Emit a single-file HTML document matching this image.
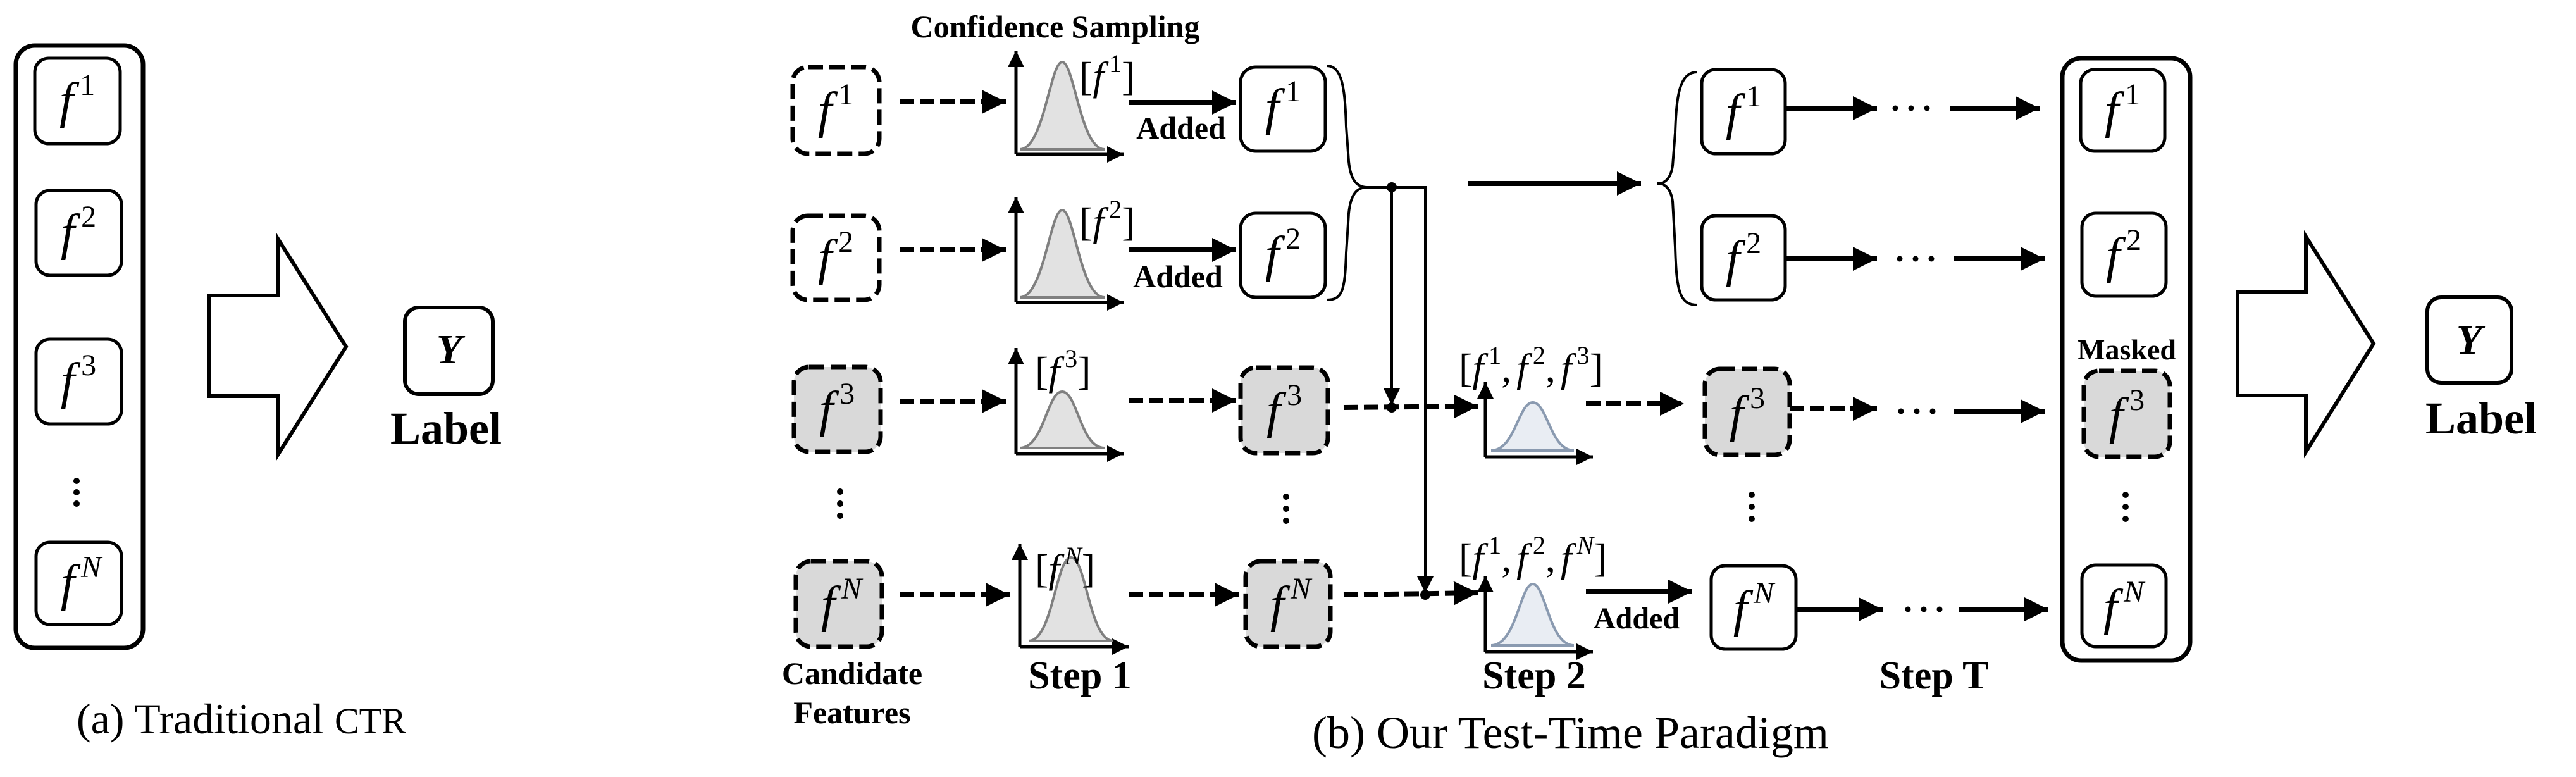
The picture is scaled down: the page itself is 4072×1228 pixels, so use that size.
<!DOCTYPE html>
<html><head><meta charset="utf-8"><style>
html,body{margin:0;padding:0;background:#fff;}
svg{display:block;}
.t{font-family:"Liberation Serif",serif;}
.b{font-family:"Liberation Serif",serif;font-weight:bold;}
.fi{font-family:"Liberation Serif",serif;font-style:italic;}
</style></head><body>
<svg width="4072" height="1228" viewBox="0 0 4072 1228" xmlns="http://www.w3.org/2000/svg">
<defs>
<marker id="ah" markerUnits="userSpaceOnUse" markerWidth="38" markerHeight="38" refX="38" refY="19" orient="auto"><path d="M0,0 L38,19 L0,38 z" fill="#000"/></marker>
<marker id="as" markerUnits="userSpaceOnUse" markerWidth="26" markerHeight="26" refX="26" refY="13" orient="auto"><path d="M0,0 L26,13 L0,26 z" fill="#000"/></marker>
</defs>
<g fill="none" stroke="#000">
<!-- (a) -->
<rect x="25" y="72" width="201" height="952" rx="30" stroke-width="7"/>
<rect x="55" y="92" width="135" height="135" rx="22" stroke-width="5"/>
<rect x="57" y="301" width="135" height="134" rx="22" stroke-width="5"/>
<rect x="57" y="536" width="135" height="134" rx="22" stroke-width="5"/>
<rect x="57" y="857" width="135" height="130" rx="22" stroke-width="5"/>
<path d="M331,467 L439,467 L439,377 L547,548 L439,719 L439,626 L331,626 Z" stroke-width="6"/>
<rect x="640" y="486" width="139" height="137" rx="22" stroke-width="6"/>

<!-- (b) candidate boxes -->
<rect x="1253" y="106" width="137" height="137" rx="24" stroke-width="7" stroke-dasharray="24 10"/>
<rect x="1253" y="341" width="137" height="133" rx="24" stroke-width="7" stroke-dasharray="24 10"/>
<rect x="1255" y="580" width="137" height="134" rx="24" stroke-width="7" stroke-dasharray="24 10" fill="#d9d9d9"/>
<rect x="1258" y="887" width="136" height="135" rx="24" stroke-width="7" stroke-dasharray="24 10" fill="#d9d9d9"/>
<g stroke-width="8" stroke-dasharray="23 9" marker-end="url(#ah)">
<line x1="1422" y1="161" x2="1590" y2="161"/>
<line x1="1422" y1="395" x2="1590" y2="395"/>
<line x1="1422" y1="634" x2="1590" y2="634"/>
<line x1="1422" y1="940" x2="1596" y2="940"/>
<line x1="1784" y1="633" x2="1954" y2="633"/>
<line x1="1784" y1="940" x2="1958" y2="940"/>
<line x1="2124" y1="644" x2="2336" y2="642"/>
<line x1="2124" y1="940" x2="2336" y2="937"/>
<line x1="2507" y1="638" x2="2662" y2="638"/>
<line x1="2829" y1="646" x2="2967" y2="646"/>
</g>
<g stroke-width="5">
<path d="M1606,244 L1606,80" marker-end="url(#as)"/><path d="M1606,244 L1776,244" marker-end="url(#as)"/>
<path d="M1606,478 L1606,311" marker-end="url(#as)"/><path d="M1606,478 L1776,478" marker-end="url(#as)"/>
<path d="M1606,717 L1606,550" marker-end="url(#as)"/><path d="M1606,717 L1776,717" marker-end="url(#as)"/>
<path d="M1612,1022 L1612,859" marker-end="url(#as)"/><path d="M1612,1022 L1784,1022" marker-end="url(#as)"/>
<path d="M2348,722 L2348,604" marker-end="url(#as)"/><path d="M2348,722 L2518,722" marker-end="url(#as)"/>
<path d="M2348,1030 L2348,910" marker-end="url(#as)"/><path d="M2348,1030 L2518,1030" marker-end="url(#as)"/>
</g>
<g stroke="#808080" stroke-width="4" fill="#e2e2e2">
<path d="M1612,236 C1650,236 1660,98 1679,98 C1698,98 1708,236 1746,236 Z"/>
<path d="M1612,470 C1650,470 1660,332 1679,332 C1698,332 1708,470 1746,470 Z"/>
<path d="M1612,708 C1650,708 1655,619 1679,619 C1703,619 1708,708 1746,708 Z"/>
<path d="M1626,1013 C1664,1013 1669,881 1693,881 C1717,881 1722,1013 1760,1013 Z"/>
</g>
<g stroke="#8a9ab0" stroke-width="4" fill="#e9edf3">
<path d="M2357,712 C2395,712 2400,636 2423,636 C2446,636 2451,712 2488,712 Z"/>
<path d="M2357,1020 C2397,1020 2403,923 2423,923 C2443,923 2449,1020 2488,1020 Z"/>
</g>
<g stroke-width="8" marker-end="url(#ah)">
<line x1="1784" y1="162" x2="1954" y2="162"/>
<line x1="1784" y1="395" x2="1954" y2="395"/>
<line x1="2507" y1="935" x2="2675" y2="935"/>
</g>
<rect x="1961" y="106" width="134" height="133" rx="24" stroke-width="5"/>
<rect x="1961" y="337" width="134" height="133" rx="24" stroke-width="5"/>
<rect x="1961" y="581" width="138" height="135" rx="24" stroke-width="7" stroke-dasharray="24 10" fill="#d9d9d9"/>
<rect x="1969" y="887" width="134" height="135" rx="24" stroke-width="7" stroke-dasharray="24 10" fill="#d9d9d9"/>
<path d="M2097,104 C2122,104 2126,140 2128,200 L2132,255 C2135,285 2145,296 2161,296 C2145,296 2135,307 2132,337 L2128,400 C2126,460 2122,474 2097,474" stroke-width="4"/>
<path d="M2161,296 L2253,296 L2253,937" stroke-width="4" marker-end="url(#as)"/>
<path d="M2200,296 L2200,640" stroke-width="4" marker-end="url(#as)"/>
<line x1="2320" y1="290" x2="2594" y2="290" stroke-width="8" marker-end="url(#ah)"/>
<path d="M2683,114 C2655,114 2650,150 2648,210 L2644,262 C2641,282 2632,290 2620,290 C2632,290 2641,298 2644,318 L2648,390 C2650,460 2655,482 2683,482" stroke-width="4"/>
<rect x="2690" y="110" width="132" height="133" rx="22" stroke-width="5"/>
<rect x="2690" y="341" width="132" height="133" rx="22" stroke-width="5"/>
<rect x="2695" y="583" width="134" height="136" rx="24" stroke-width="7" stroke-dasharray="24 10" fill="#d9d9d9"/>
<rect x="2705" y="894" width="134" height="132" rx="22" stroke-width="5"/>
<g stroke-width="8" marker-end="url(#ah)">
<line x1="2822" y1="171" x2="2967" y2="171"/>
<line x1="3082" y1="171" x2="3224" y2="171"/>
<line x1="2822" y1="409" x2="2967" y2="409"/>
<line x1="3089" y1="409" x2="3232" y2="409"/>
<line x1="3089" y1="650" x2="3232" y2="650"/>
<line x1="2839" y1="963" x2="2976" y2="963"/>
<line x1="3097" y1="963" x2="3238" y2="963"/>
</g>
<rect x="3260" y="92" width="202" height="952" rx="30" stroke-width="7"/>
<rect x="3289" y="110" width="133" height="129" rx="22" stroke-width="5"/>
<rect x="3291" y="337" width="133" height="131" rx="22" stroke-width="5"/>
<rect x="3294" y="586" width="136" height="136" rx="24" stroke-width="7" stroke-dasharray="24 10" fill="#d9d9d9"/>
<rect x="3291" y="893" width="133" height="129" rx="22" stroke-width="5"/>
<path d="M3537,462 L3645,462 L3645,374 L3752,543 L3645,714 L3645,625 L3537,625 Z" stroke-width="6"/>
<rect x="3837" y="470" width="133" height="135" rx="22" stroke-width="6"/>
</g>
<g fill="#000">
<circle cx="2200" cy="296" r="8"/><circle cx="2200" cy="644" r="8"/><circle cx="2253" cy="940" r="8"/>
<circle cx="121" cy="760" r="5"/><circle cx="121" cy="778" r="5"/><circle cx="121" cy="796" r="5"/>
<circle cx="1328" cy="777" r="5"/><circle cx="1328" cy="796" r="5"/><circle cx="1328" cy="815" r="5"/>
<circle cx="2033" cy="785" r="5"/><circle cx="2033" cy="804" r="5"/><circle cx="2033" cy="823" r="5"/>
<circle cx="2769" cy="782" r="5"/><circle cx="2769" cy="801" r="5"/><circle cx="2769" cy="820" r="5"/>
<circle cx="3360" cy="782" r="5"/><circle cx="3360" cy="801" r="5"/><circle cx="3360" cy="820" r="5"/>
<circle cx="2996" cy="171" r="4.5"/><circle cx="3021" cy="171" r="4.5"/><circle cx="3046" cy="171" r="4.5"/>
<circle cx="3003" cy="409" r="4.5"/><circle cx="3028" cy="409" r="4.5"/><circle cx="3053" cy="409" r="4.5"/>
<circle cx="3005" cy="650" r="4.5"/><circle cx="3030" cy="650" r="4.5"/><circle cx="3055" cy="650" r="4.5"/>
<circle cx="3016" cy="963" r="4.5"/><circle cx="3041" cy="963" r="4.5"/><circle cx="3066" cy="963" r="4.5"/>
</g>
<g class="fi" font-size="80" text-anchor="middle">
<text x="122" y="186">f<tspan font-size="48" font-style="normal" dx="10" dy="-36">1</tspan></text>
<text x="124" y="394">f<tspan font-size="48" font-style="normal" dx="10" dy="-36">2</tspan></text>
<text x="124" y="629">f<tspan font-size="48" font-style="normal" dx="10" dy="-36">3</tspan></text>
<text x="128" y="948">f<tspan font-size="48" dx="10" dy="-36">N</tspan></text>

<text x="1321" y="201">f<tspan font-size="48" font-style="normal" dx="10" dy="-36">1</tspan></text>
<text x="1321" y="434">f<tspan font-size="48" font-style="normal" dx="10" dy="-36">2</tspan></text>
<text x="1323" y="674">f<tspan font-size="48" font-style="normal" dx="10" dy="-36">3</tspan></text>
<text x="1330" y="982">f<tspan font-size="48" dx="10" dy="-36">N</tspan></text>

<text x="2028" y="196">f<tspan font-size="48" font-style="normal" dx="10" dy="-36">1</tspan></text>
<text x="2028" y="429">f<tspan font-size="48" font-style="normal" dx="10" dy="-36">2</tspan></text>
<text x="2030" y="676">f<tspan font-size="48" font-style="normal" dx="10" dy="-36">3</tspan></text>
<text x="2040" y="982">f<tspan font-size="48" dx="10" dy="-36">N</tspan></text>

<text x="2756" y="204">f<tspan font-size="48" font-style="normal" dx="10" dy="-36">1</tspan></text>
<text x="2756" y="436">f<tspan font-size="48" font-style="normal" dx="10" dy="-36">2</tspan></text>
<text x="2762" y="681">f<tspan font-size="48" font-style="normal" dx="10" dy="-36">3</tspan></text>
<text x="2772" y="989">f<tspan font-size="48" dx="10" dy="-36">N</tspan></text>

<text x="3355" y="201">f<tspan font-size="48" font-style="normal" dx="10" dy="-36">1</tspan></text>
<text x="3357" y="431">f<tspan font-size="48" font-style="normal" dx="10" dy="-36">2</tspan></text>
<text x="3362" y="684">f<tspan font-size="48" font-style="normal" dx="10" dy="-36">3</tspan></text>
<text x="3357" y="987">f<tspan font-size="48" dx="10" dy="-36">N</tspan></text>
</g>
<g class="t" font-size="64">
<text x="1706" y="142">[<tspan font-style="italic">f</tspan><tspan font-size="40" dx="8" dy="-28">1</tspan><tspan dy="28">]</tspan></text>
<text x="1706" y="372">[<tspan font-style="italic">f</tspan><tspan font-size="40" dx="8" dy="-28">2</tspan><tspan dy="28">]</tspan></text>
<text x="1636" y="608">[<tspan font-style="italic">f</tspan><tspan font-size="40" dx="8" dy="-28">3</tspan><tspan dy="28">]</tspan></text>
<text x="1636" y="920">[<tspan font-style="italic">f</tspan><tspan font-size="40" font-style="italic" dx="8" dy="-28">N</tspan><tspan dy="28">]</tspan></text>
<text x="2306" y="603">[<tspan font-style="italic">f</tspan><tspan font-size="40" dx="8" dy="-28">1</tspan><tspan dy="28">,</tspan><tspan font-style="italic" dx="8">f</tspan><tspan font-size="40" dx="8" dy="-28">2</tspan><tspan dy="28">,</tspan><tspan font-style="italic" dx="8">f</tspan><tspan font-size="40" dx="8" dy="-28">3</tspan><tspan dy="28">]</tspan></text>
<text x="2306" y="903">[<tspan font-style="italic">f</tspan><tspan font-size="40" dx="8" dy="-28">1</tspan><tspan dy="28">,</tspan><tspan font-style="italic" dx="8">f</tspan><tspan font-size="40" dx="8" dy="-28">2</tspan><tspan dy="28">,</tspan><tspan font-style="italic" dx="8">f</tspan><tspan font-size="40" font-style="italic" dx="8" dy="-28">N</tspan><tspan dy="28">]</tspan></text>
</g>
<text x="710" y="574" class="b" font-style="italic" font-size="66" text-anchor="middle">Y</text>
<text x="3903" y="559" class="b" font-style="italic" font-size="66" text-anchor="middle">Y</text>
<g class="b" text-anchor="middle">
<text x="705" y="701" font-size="72">Label</text>
<text x="3922" y="685" font-size="72">Label</text>
<text x="1668" y="59" font-size="50">Confidence Sampling</text>
<text x="1867" y="219" font-size="50">Added</text>
<text x="1862" y="454" font-size="50">Added</text>
<text x="2587" y="993" font-size="48">Added</text>
<text x="1347" y="1081" font-size="50">Candidate</text>
<text x="1347" y="1143" font-size="50">Features</text>
<text x="1707" y="1088" font-size="62">Step 1</text>
<text x="2425" y="1088" font-size="62">Step 2</text>
<text x="3057" y="1088" font-size="62">Step T</text>
<text x="3362" y="568" font-size="46">Masked</text>
</g>
<text x="121" y="1159" class="t" font-size="68">(a) Traditional <tspan font-size="58">CTR</tspan></text>
<text x="2074" y="1182" class="t" font-size="72">(b) Our Test-Time Paradigm</text>
</svg>
</body></html>
